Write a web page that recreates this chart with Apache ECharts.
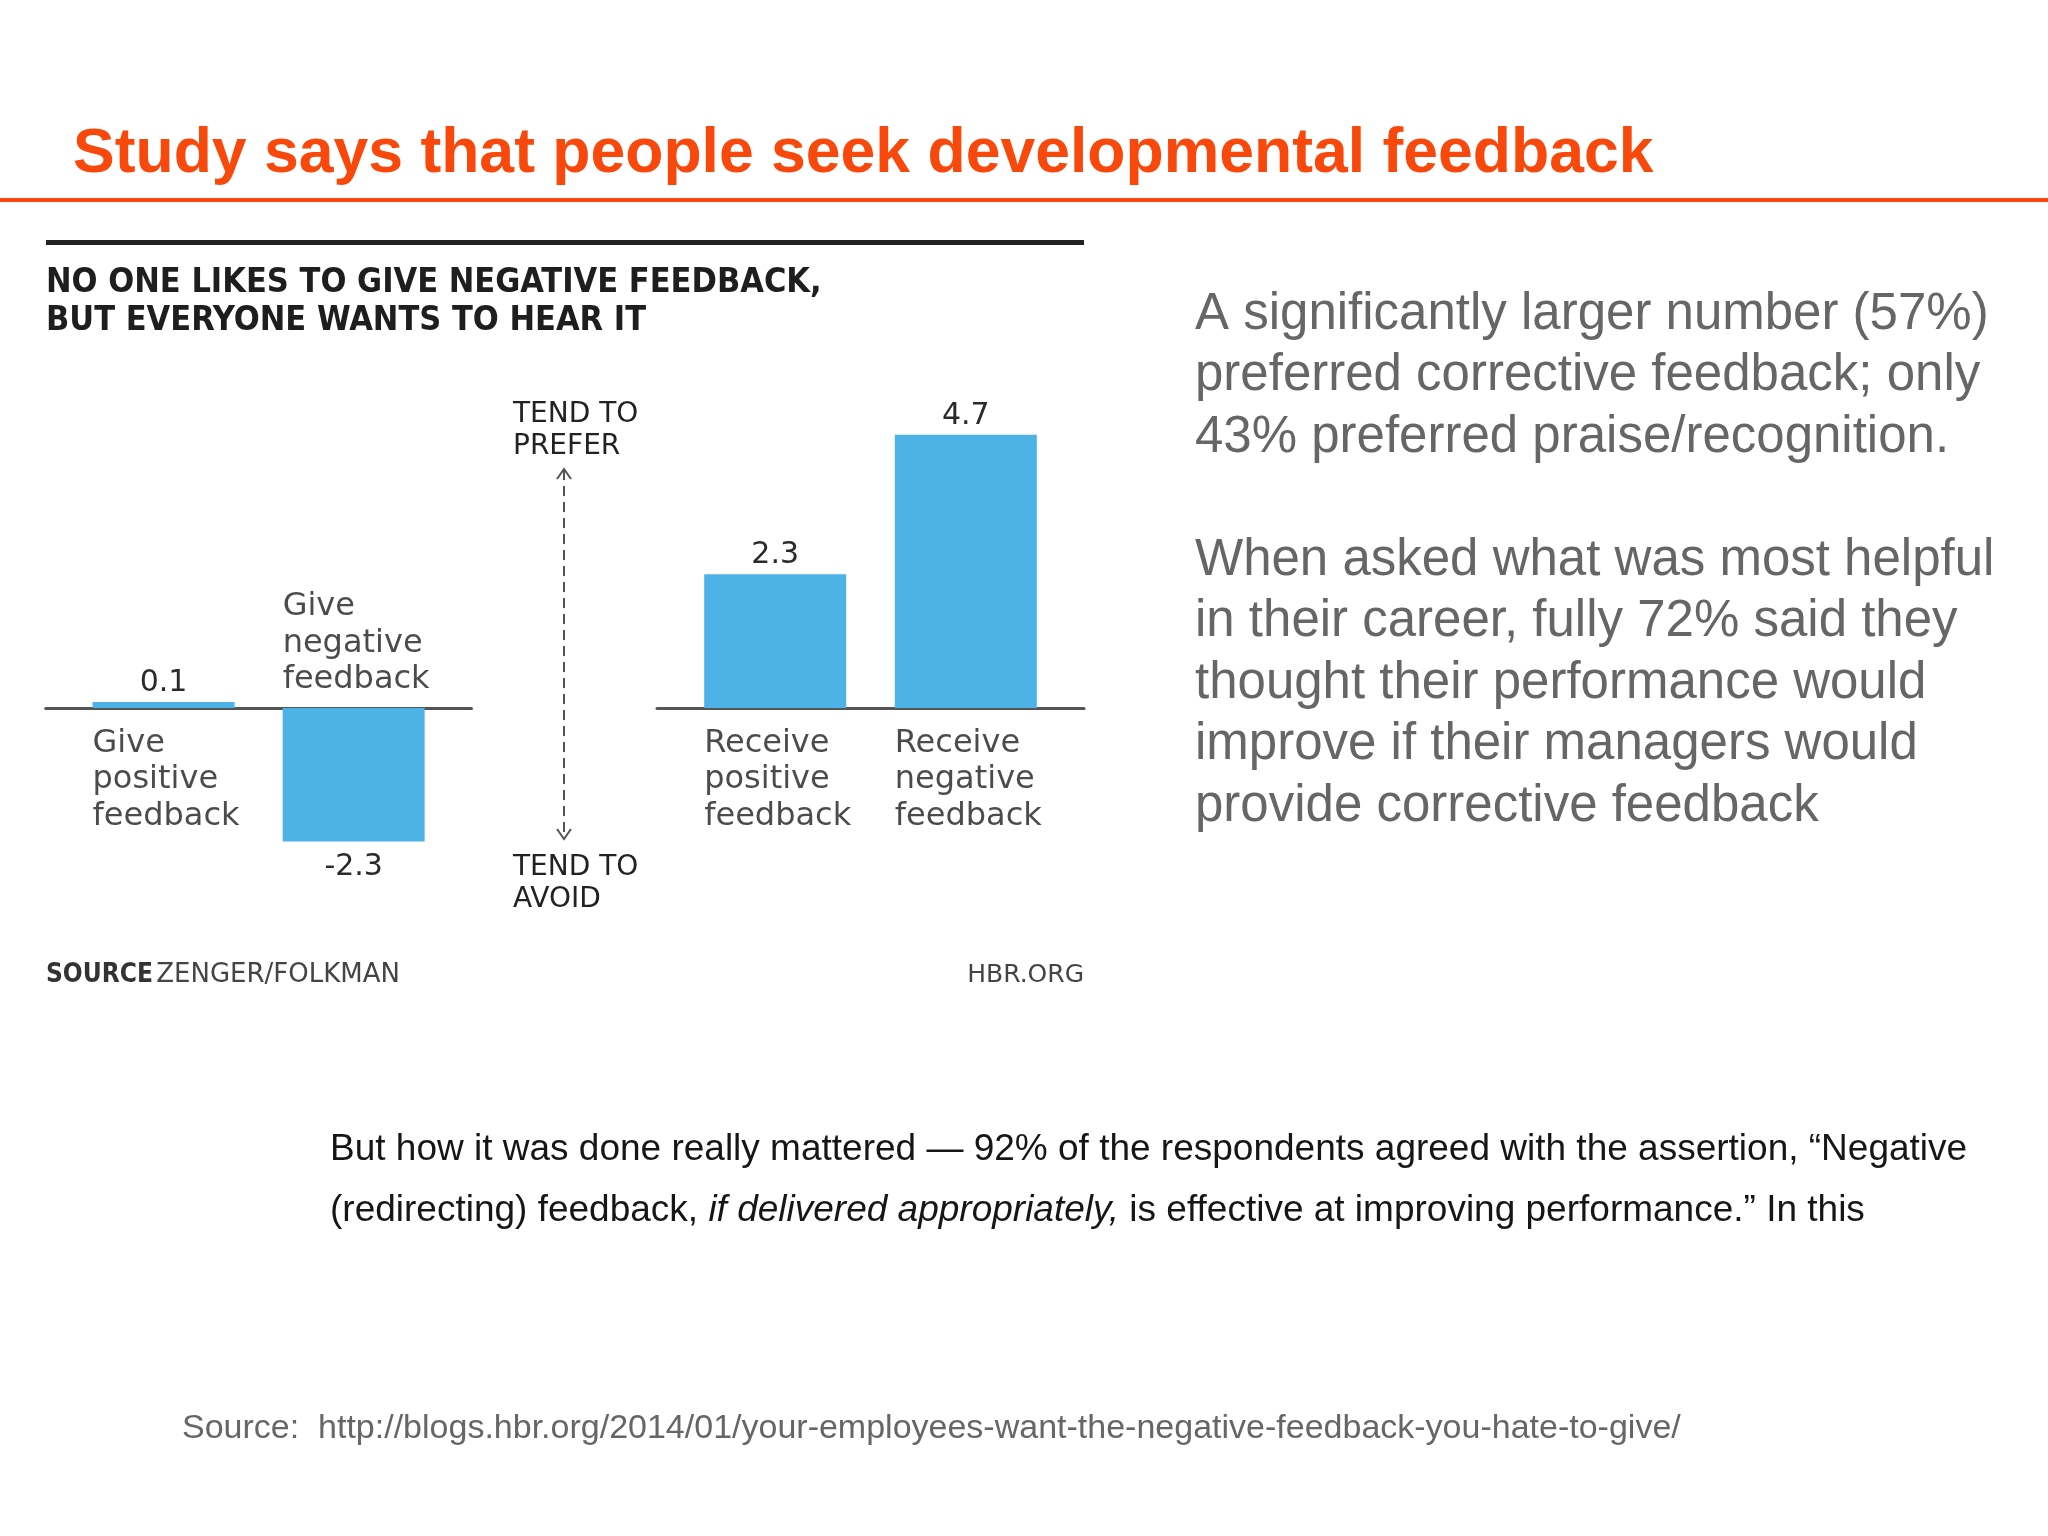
<!DOCTYPE html>
<html>
<head>
<meta charset="utf-8">
<script src="https://cdn.jsdelivr.net/npm/echarts@6/dist/echarts.min.js"></script>
<style>
html,body{margin:0;padding:0;background:#fff;}
#chart{width:2048px;height:1536px;}
</style>
</head>
<body>
<div id="chart"></div>
<script>
// ---- data ----
const giveCategories = ['Give positive feedback', 'Give negative feedback'];
const giveValues = [0.1, -2.3];
const receiveCategories = ['Receive positive feedback', 'Receive negative feedback'];
const receiveValues = [2.3, 4.7];

const slideTitle = 'Study says that people seek developmental feedback';
const chartTitleLines = ['NO ONE LIKES TO GIVE NEGATIVE FEEDBACK,', 'BUT EVERYONE WANTS TO HEAR IT'];
const preferLabel = 'TEND TO\nPREFER';
const avoidLabel = 'TEND TO\nAVOID';
const chartSource = 'ZENGER/FOLKMAN';
const chartCredit = 'HBR.ORG';
const sideText = [
  'A significantly larger number (57%)',
  'preferred corrective feedback; only',
  '43% preferred praise/recognition.',
  '',
  'When asked what was most helpful',
  'in their career, fully 72% said they',
  'thought their performance would',
  'improve if their managers would',
  'provide corrective feedback'
];
const quoteLine1 = 'But how it was done really mattered \u2014 92% of the respondents agreed with the assertion, \u201cNegative';
const quoteLine2a = '(redirecting) feedback, ';
const quoteLine2i = 'if delivered appropriately,';
const quoteLine2b = ' is effective at improving performance.\u201d In this';
const sourceUrl = 'Source:  http://blogs.hbr.org/2014/01/your-employees-want-the-negative-feedback-you-hate-to-give/';

// ---- styles ----
const BAR = '#4DB3E6';
const ORANGE = '#F9480C';
const labelFont = 'DejaVu Sans';
const BAR_W = 142;

const chart = echarts.init(document.getElementById('chart'), null, {renderer: 'canvas'});

function barSeries(values, idx) {
  return {
    type: 'bar',
    xAxisIndex: idx, yAxisIndex: idx,
    barWidth: BAR_W,
    itemStyle: {color: BAR},
    data: values.map((v, i) => ({
      value: [i, v],
      label: {position: v < 0 ? 'bottom' : 'top', distance: v < 0 ? 11 : 4}
    })),
    label: {
      show: true,
      fontFamily: labelFont, fontSize: 30, color: '#2a2a2a',
      formatter: p => p.value[1].toFixed(1)
    },
    z: 2
  };
}
function catSeries(cats, values, idx) {
  return {
    type: 'scatter',
    xAxisIndex: idx, yAxisIndex: idx,
    symbol: 'circle', symbolSize: 1,
    itemStyle: {color: 'rgba(0,0,0,0)'},
    silent: true,
    data: cats.map((c, i) => {
      const below = values[i] >= 0;
      return {
        value: [i, 0],
        name: c,
        label: {
          position: below ? 'bottom' : 'top',
          distance: below ? 17 : 9,
          verticalAlign: below ? 'top' : 'bottom'
        }
      };
    }),
    label: {
      show: true,
      align: 'left',
      offset: [-BAR_W / 2, 0],
      fontFamily: labelFont, fontSize: 32, lineHeight: 36.5, color: '#1e1e1e',
      formatter: p => p.name.split(' ').join('\n')
    },
    z: 3
  };
}
function xAx(idx) {
  return {
    type: 'value', gridIndex: idx, min: -0.62, max: 1.62,
    axisLine: {show: true, onZero: true, lineStyle: {color: '#555', width: 3}},
    axisTick: {show: false}, axisLabel: {show: false}, splitLine: {show: false}
  };
}
function yAx(idx) {
  return {
    type: 'value', gridIndex: idx, min: -3, max: 5,
    axisLine: {show: false}, axisTick: {show: false}, axisLabel: {show: false}, splitLine: {show: false}
  };
}

const option = {
  backgroundColor: '#fff',
  animation: false,
  title: {
    text: slideTitle, left: 73, top: 120, padding: 0,
    textStyle: {fontFamily: 'Liberation Sans', fontWeight: 'bold', fontSize: 62.5, lineHeight: 70, color: ORANGE}
  },
  grid: [
    {left: 45.7, top: 417.4, width: 425.8, height: 464.8},
    {left: 657, top: 417.4, width: 427, height: 464.8}
  ],
  xAxis: [xAx(0), xAx(1)],
  yAxis: [yAx(0), yAx(1)],
  series: [
    barSeries(giveValues, 0),
    barSeries(receiveValues, 1),
    catSeries(giveCategories, giveValues, 0),
    catSeries(receiveCategories, receiveValues, 1)
  ],
  graphic: [
    {type: 'rect', shape: {x: 0, y: 198, width: 2048, height: 4}, style: {fill: ORANGE}},
    {type: 'rect', shape: {x: 46, y: 240, width: 1038, height: 5}, style: {fill: '#222'}},
    {type: 'text', x: 46, y: 283, style: {text: chartTitleLines[0], font: 'bold 34px "DejaVu Sans Condensed"', fill: '#1e1e1e', verticalAlign: 'middle'}},
    {type: 'text', x: 46, y: 321, style: {text: chartTitleLines[1], font: 'bold 34px "DejaVu Sans Condensed"', fill: '#1e1e1e', verticalAlign: 'middle'}},
    {type: 'text', x: 513, y: 399, style: {text: preferLabel, font: '28px "DejaVu Sans"', lineHeight: 32, fill: '#222', verticalAlign: 'top'}},
    {type: 'text', x: 513, y: 852, style: {text: avoidLabel, font: '28px "DejaVu Sans"', lineHeight: 32, fill: '#222', verticalAlign: 'top'}},
    {type: 'line', shape: {x1: 564, y1: 470, x2: 564, y2: 838}, style: {stroke: '#555', lineWidth: 2, lineDash: [10, 6]}},
    {type: 'polyline', shape: {points: [[557, 479], [564, 469], [571, 479]]}, style: {stroke: '#555', lineWidth: 2, fill: null}},
    {type: 'polyline', shape: {points: [[557, 829], [564, 839], [571, 829]]}, style: {stroke: '#555', lineWidth: 2, fill: null}},
    {type: 'text', x: 46, y: 975, style: {
      text: '{b|SOURCE} {n|' + chartSource + '}', verticalAlign: 'middle',
      rich: {
        b: {fontFamily: 'DejaVu Sans Condensed', fontWeight: 'bold', fontSize: 26, fill: '#333'},
        n: {fontFamily: 'DejaVu Sans', fontSize: 26, fill: '#444'}
      }
    }},
    {type: 'text', x: 1084, y: 975, style: {text: chartCredit, font: '25px "DejaVu Sans"', fill: '#444', align: 'right', verticalAlign: 'middle'}},
    {type: 'text', x: 1195, y: 284, style: {text: sideText.join('\n'), font: '51px "Liberation Sans"', lineHeight: 61.5, fill: '#666', verticalAlign: 'top'}},
    {type: 'text', x: 330, y: 1150, style: {text: quoteLine1, font: '37px "Liberation Sans"', fill: '#161616', verticalAlign: 'middle'}},
    {type: 'text', x: 330, y: 1211, style: {
      text: '{n|' + quoteLine2a + '}{i|' + quoteLine2i + '}{n|' + quoteLine2b + '}', verticalAlign: 'middle',
      rich: {
        n: {fontFamily: 'Liberation Sans', fontSize: 37, fill: '#161616'},
        i: {fontFamily: 'Liberation Sans', fontStyle: 'italic', fontSize: 37, fill: '#161616'}
      }
    }},
    {type: 'text', x: 182, y: 1429, style: {text: sourceUrl, font: '34px "Liberation Sans"', fill: '#666', verticalAlign: 'middle'}}
  ]
};
chart.setOption(option);
</script>
</body>
</html>
